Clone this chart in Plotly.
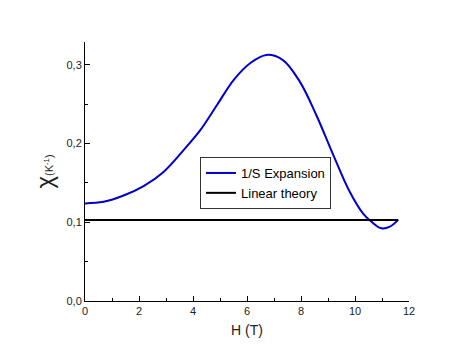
import plotly.graph_objects as go

H_exp = [0.0, 0.69, 1.43, 2.17, 2.91, 3.66, 4.27, 4.89, 5.51, 6.15, 6.72, 7.33, 7.95, 8.57, 9.19, 9.8, 10.3, 10.6, 10.98, 11.29, 11.6]
chi_exp = [0.124, 0.126, 0.134, 0.146, 0.164, 0.192, 0.217, 0.249, 0.281, 0.303, 0.3126, 0.306, 0.279, 0.236, 0.186, 0.139, 0.111, 0.101, 0.0923, 0.0944, 0.103]
H_lin = [0.0, 11.6]
chi_lin = [0.103, 0.103]

fig = go.Figure()
fig.add_trace(go.Scatter(x=H_exp, y=chi_exp, mode="lines", name="1/S Expansion",
                         line=dict(color="#0000cc", width=2, shape="spline", smoothing=1.0)))
fig.add_trace(go.Scatter(x=H_lin, y=chi_lin, mode="lines", name="Linear theory",
                         line=dict(color="black", width=2)))

axis_common = dict(showline=True, linecolor="black", linewidth=1, ticks="inside", ticklen=5,
                   tickcolor="black", showgrid=False, zeroline=False, mirror=False, automargin=False,
                   tickfont=dict(family="Liberation Sans, Arial", size=11, color="#222"))

fig.update_layout(
    width=466, height=355,
    paper_bgcolor="white", plot_bgcolor="white",
    margin=dict(l=77, r=65, t=34, b=62),
    separators=",.",
    showlegend=True,
    legend=dict(x=0.355, y=0.556, xanchor="left", yanchor="top",
                bordercolor="#333", borderwidth=1, bgcolor="white",
                font=dict(family="Liberation Sans, Arial", size=13, color="black"),
                tracegroupgap=0, itemwidth=30),
    xaxis=dict(range=[0, 12], tickvals=[0, 2, 4, 6, 8, 10, 12],
               minor=dict(tickvals=[1, 3, 5, 7, 9, 11], ticks="inside", ticklen=3, tickcolor="black"),
               title=dict(text="H (T)", font=dict(family="Liberation Sans, Arial", size=14, color="#222"), standoff=8),
               **axis_common),
    yaxis=dict(range=[0, 0.329], tickvals=[0, 0.1, 0.2, 0.3], tickformat=".1f",
               minor=dict(tickvals=[0.05, 0.15, 0.25], ticks="inside", ticklen=3, tickcolor="black"),
               title=dict(text="<span style='font-size:24px'>χ</span><span style='font-size:11px'>(K<sup>-1</sup>)</span>",
                          font=dict(family="Liberation Sans, Arial", size=11, color="#222"), standoff=10),
               **axis_common),
)

fig.write_html("out.html")
